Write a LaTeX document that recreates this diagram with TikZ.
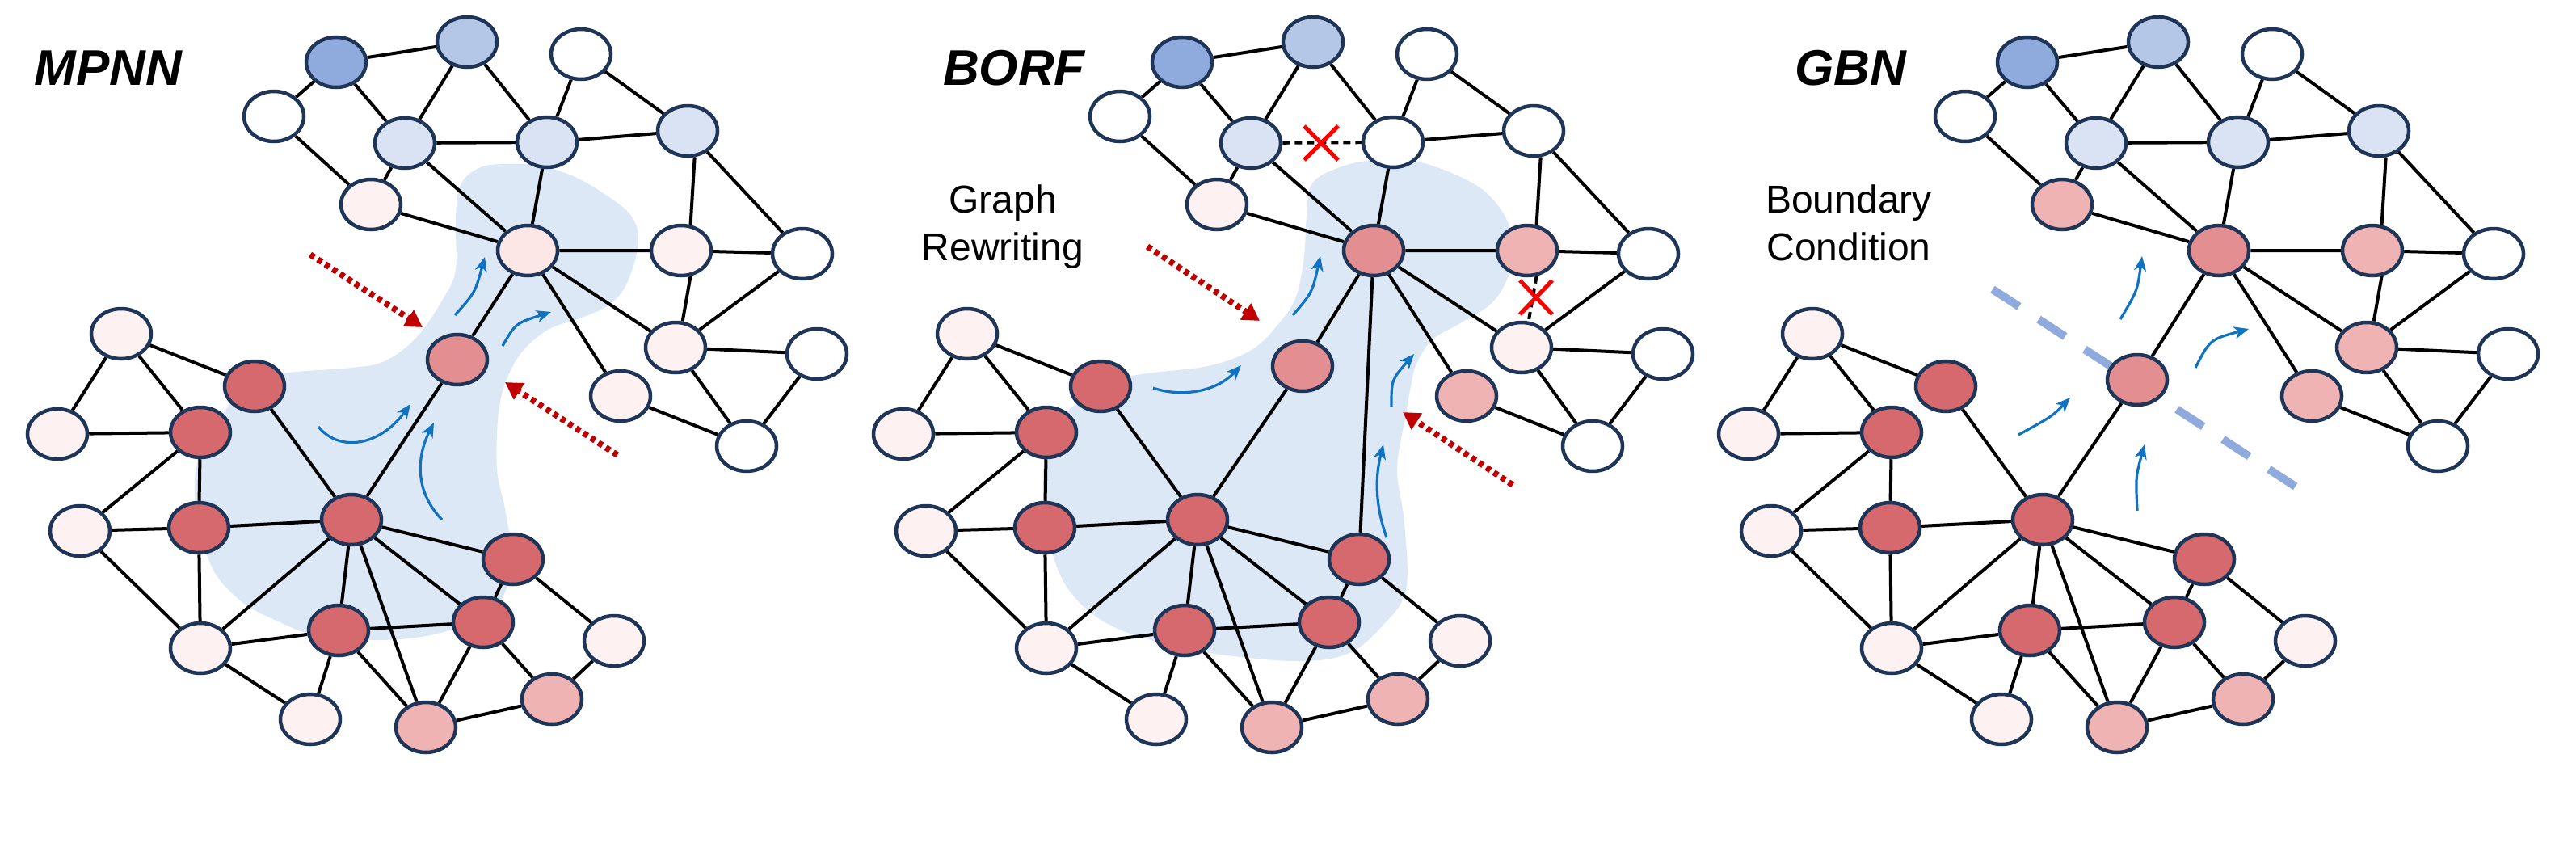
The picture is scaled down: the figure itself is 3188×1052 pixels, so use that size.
\documentclass[tikz,border=0pt]{standalone}
\usepackage{fontspec}
\setmainfont{Liberation Sans}
\usetikzlibrary{shapes.geometric,arrows.meta}
\pgfdeclarelayer{blobl}
\pgfdeclarelayer{edgel}
\pgfsetlayers{blobl,edgel,main}
\definecolor{dblue}{HTML}{8FAADC}
\definecolor{lblue}{HTML}{B4C7E7}
\definecolor{xblue}{HTML}{DAE3F3}
\definecolor{pwhite}{HTML}{FDF1F1}
\definecolor{hubp}{HTML}{FCE6E6}
\definecolor{mpink}{HTML}{E38E90}
\definecolor{dred}{HTML}{D6696E}
\definecolor{pink}{HTML}{EFB3B3}
\definecolor{bord}{HTML}{1F3558}
\definecolor{blobc}{HTML}{DCE8F6}
\definecolor{arrb}{HTML}{0F73C2}
\definecolor{redd}{HTML}{C00000}
\definecolor{redx}{HTML}{FF0000}
\definecolor{bndc}{HTML}{8FAADC}
\tikzset{
  nd/.style={ellipse,draw=bord,line width=4.5pt,minimum width=74pt,minimum height=62pt,inner sep=0pt},
  ed/.style={line width=4pt,black},
  ded/.style={line width=4pt,black,dash pattern=on 9pt off 6pt},
  flow/.style={line width=3.2pt,arrb,-{Stealth[length=18pt,width=15pt,inset=5pt]}},
  push/.style={line width=7.5pt,redd,dash pattern=on 6pt off 5pt,-{Triangle[length=21pt,width=23pt]}},
  xm/.style={line width=5pt,redx},
  bnd/.style={line width=10pt,bndc,dash pattern=on 39pt off 29pt},
  blob/.style={fill=blobc},
  ttl/.style={font=\fontsize{62}{70}\selectfont\bfseries\itshape,anchor=base,inner sep=0pt},
  lbl/.style={font=\fontsize{48}{58}\selectfont,anchor=base,inner sep=0pt}
}
\newcommand\gnodes[1]{%
  \node[nd,fill=dblue] (#1A) at (416,77) {};
  \node[nd,fill=lblue] (#1B) at (578,52) {};
  \node[nd,fill=white] (#1C) at (719,67) {};
  \node[nd,fill=white] (#1D) at (339,144) {};
  \node[nd,fill=xblue] (#1E) at (501,177) {};
  \node[nd,fill=kF] (#1F) at (677,176) {};
  \node[nd,fill=kG] (#1G) at (851,162) {};
  \node[nd,fill=kH] (#1H) at (459,253) {};
  \node[nd,fill=kI] (#1I) at (653,310) {};
  \node[nd,fill=kJ] (#1J) at (843,310) {};
  \node[nd,fill=white] (#1K) at (993,314) {};
  \node[nd,fill=mpink] (#1L) at (\Lx,\Ly) {};
  \node[nd,fill=kM] (#1M) at (836,430) {};
  \node[nd,fill=white] (#1N) at (1011,438) {};
  \node[nd,fill=kO] (#1O) at (768,490) {};
  \node[nd,fill=white] (#1Wl) at (924,552) {};
  \node[nd,fill=pwhite] (#1P) at (150,413) {};
  \node[nd,fill=dred] (#1Q) at (315,478) {};
  \node[nd,fill=pwhite] (#1R) at (71,537) {};
  \node[nd,fill=dred] (#1S) at (248,535) {};
  \node[nd,fill=pwhite] (#1T) at (99,657) {};
  \node[nd,fill=dred] (#1U) at (246,653) {};
  \node[nd,fill=dred] (#1V) at (435,643) {};
  \node[nd,fill=dred] (#1W) at (635,692) {};
  \node[nd,fill=pwhite] (#1X) at (248,802) {};
  \node[nd,fill=dred] (#1Y) at (419,780) {};
  \node[nd,fill=dred] (#1Z) at (598,770) {};
  \node[nd,fill=pwhite] (#1AA) at (760,793) {};
  \node[nd,fill=pwhite] (#1AB) at (384,890) {};
  \node[nd,fill=pink] (#1AC) at (527,900) {};
  \node[nd,fill=pink] (#1AD) at (683,865) {};
}
\newcommand\gedges[1]{%
  \draw[ed] (#1A)--(#1B) (#1A)--(#1D) (#1A)--(#1E) (#1B)--(#1E) (#1B)--(#1F)
    (#1C)--(#1F) (#1C)--(#1G) (#1F)--(#1G) (#1D)--(#1H) (#1E)--(#1H)
    (#1E)--(#1I) (#1F)--(#1I) (#1H)--(#1I) (#1I)--(#1J) (#1J)--(#1K)
    (#1G.-75)--(#1J.70) (#1G)--(#1K) (#1I)--(#1L) (#1I)--(#1M) (#1I)--(#1O)
    (#1K)--(#1M) (#1M)--(#1N) (#1M)--(#1Wl) (#1N)--(#1Wl) (#1O)--(#1Wl)
    (#1L)--(#1V) (#1Q)--(#1V)
    (#1P)--(#1R) (#1P)--(#1S) (#1P)--(#1Q) (#1R)--(#1S) (#1S)--(#1T)
    (#1S)--(#1U) (#1T)--(#1U) (#1U)--(#1V) (#1T)--(#1X) (#1U)--(#1X)
    (#1V)--(#1X) (#1V)--(#1Y) (#1V)--(#1AC) (#1V)--(#1Z) (#1V)--(#1W)
    (#1W)--(#1Z) (#1W)--(#1AA) (#1X)--(#1Y) (#1Y)--(#1Z) (#1X)--(#1AB)
    (#1Y)--(#1AB) (#1Y)--(#1AC) (#1Z)--(#1AC) (#1Z)--(#1AD) (#1AA)--(#1AD)
    (#1AC)--(#1AD);
}
\begin{document}
\begin{tikzpicture}[x=1pt,y=-1pt]
\useasboundingbox (0,0) rectangle (3188,1052);
% ---------- nodes
\begin{scope}
  \colorlet{kF}{xblue}\colorlet{kG}{xblue}\colorlet{kH}{pwhite}\colorlet{kI}{hubp}
  \colorlet{kJ}{pwhite}\colorlet{kM}{pwhite}\colorlet{kO}{pwhite}
  \def\Lx{566}\def\Ly{445}
  \gnodes{a}
\end{scope}
\begin{scope}[xshift=1047]
  \colorlet{kF}{white}\colorlet{kG}{white}\colorlet{kH}{pwhite}\colorlet{kI}{mpink}
  \colorlet{kJ}{pink}\colorlet{kM}{pwhite}\colorlet{kO}{pink}
  \def\Lx{565}\def\Ly{453}
  \gnodes{b}
\end{scope}
\begin{scope}[xshift=2093]
  \colorlet{kF}{xblue}\colorlet{kG}{xblue}\colorlet{kH}{pink}\colorlet{kI}{mpink}
  \colorlet{kJ}{pink}\colorlet{kM}{pink}\colorlet{kO}{pink}
  \def\Lx{552}\def\Ly{470}
  \gnodes{c}
\end{scope}
% ---------- background and blobs
\begin{pgfonlayer}{blobl}
\fill[white] (0,0) rectangle (3188,1052);
\fill[blob] plot[smooth cycle,tension=0.6] coordinates {
 (628,203) (666,205) (707,217) (748,240) (781,267) (790,300) (776,350) (754,377)
 (720,393) (680,407) (648,433) (628,467) (617,510) (615,580) (625,630) (632,680)
 (625,733) (598,763) (537,785) (469,792) (394,787) (340,767) (296,742) (260,697)
 (241,613) (251,547) (279,507) (300,480) (330,466) (367,460) (435,455) (476,447)
 (516,417) (550,367) (564,333) (564,267) (571,227) (595,207)};
\fill[blob] plot[smooth cycle,tension=0.6] coordinates {
 (1699,198) (1740,197) (1794,213) (1841,240) (1869,283) (1869,333) (1848,373) (1807,400)
 (1773,420) (1753,450) (1745,483) (1740,513) (1729,580) (1738,647) (1740,730) (1712,773)
 (1672,807) (1617,818) (1536,813) (1454,800) (1373,773) (1325,733) (1301,680) (1291,613)
 (1294,563) (1311,520) (1332,500) (1366,473) (1420,462) (1495,453) (1549,433) (1583,400)
 (1604,367) (1614,317) (1617,267) (1624,227) (1658,207)};
\end{pgfonlayer}
% ---------- edges
\begin{pgfonlayer}{edgel}
\gedges{a}
\draw[ed] (aE)--(aF) (aJ.-70)--(aM.75);
\gedges{b}
\draw[ed] (bI)--(bW);
\draw[ded] (bE)--(bF) (bJ.-70)--(bM.75);
\gedges{c}
\draw[ed] (cE)--(cF) (cJ.-70)--(cM.75);
\draw[bnd] (2466,358) -- (2850,608);
\end{pgfonlayer}
% ---------- red X marks
\draw[xm] (1635,177) +(-21,-21) -- +(21,21) +(-21,21) -- +(21,-21);
\draw[xm] (1901,368) +(-20,-21) -- +(20,21) +(-20,21) -- +(20,-21);
% ---------- flow arrows
\draw[flow] (563,390) .. controls (588,362) .. (600,318);
\draw[flow] (622,428) .. controls (638,400) .. (682,386);
\draw[flow] (394,528) .. controls (420,560) and (470,552) .. (508,500);
\draw[flow] (547,643) .. controls (510,605) and (518,560) .. (537,523);
\draw[flow] (1600,390) .. controls (1624,362) .. (1634,317);
\draw[flow] (1427,480) .. controls (1462,492) and (1505,485) .. (1536,452);
\draw[flow] (1722,503) .. controls (1722,470) .. (1750,438);
\draw[flow] (1716,665) .. controls (1700,620) and (1703,585) .. (1712,550);
\draw[flow] (2624,395) .. controls (2645,360) .. (2651,317);
\draw[flow] (2717,455) .. controls (2735,420) .. (2783,407);
\draw[flow] (2498,538) .. controls (2540,515) .. (2562,492);
\draw[flow] (2645,632) .. controls (2643,590) .. (2654,550);
% ---------- red dotted arrows
\draw[push] (384,315) -- (523,405);
\draw[push] (764,563) -- (625,473);
\draw[push] (1420,305) -- (1559,397);
\draw[push] (1872,600) -- (1736,510);
% ---------- texts
\node[ttl] (t1) at (134,105) {MPNN};
\node[ttl] (t2) at (1255,105) {BORF};
\node[ttl] (t3) at (2290,105) {GBN};
\node[lbl] (l1) at (1241,263) {Graph};
\node[lbl] (l2) at (1241,322) {Rewriting};
\node[lbl] (l3) at (2288,263) {Boundary};
\node[lbl] (l4) at (2288,322) {Condition};
\end{tikzpicture}
\end{document}
